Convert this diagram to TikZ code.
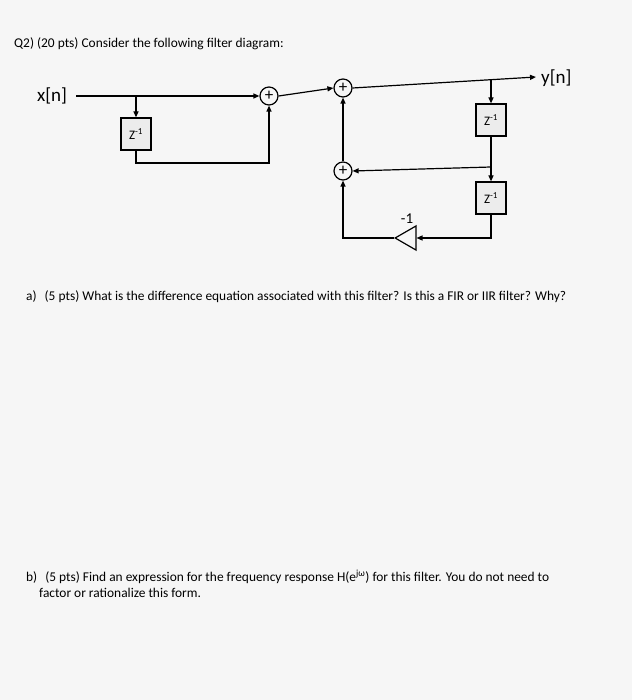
\documentclass[tikz,border=0pt]{standalone}
\usepackage{fontspec}
\setmainfont{Carlito}
\usetikzlibrary{arrows.meta,shapes.geometric}
\begin{document}
\begin{tikzpicture}[x=1pt,y=-1pt,
  wire/.style={line width=1.2pt},
  arr/.style={wire,-{Triangle[length=6pt,width=5pt]}},
  adder/.style={circle,draw,line width=1.2pt,minimum size=18pt,inner sep=0pt,font=\fontsize{17}{17}\selectfont},
  dbox/.style={draw,line width=1.2pt,fill=white!85!gray,minimum width=30pt,minimum height=32pt,font=\fontsize{13}{13}\selectfont},
  txt/.style={anchor=west,inner sep=0pt,font=\fontsize{13.4}{15}\selectfont}]
\fill[white!93!gray] (0,0) rectangle (632,700);
\useasboundingbox (0,0) rectangle (632,700);
\node[txt] (q) at (14,44) {Q2) (20 pts) Consider the following filter diagram:};
\node[font=\fontsize{19}{19}\selectfont,inner sep=1pt] (x) at (52,96) {x[n]};
\node[adder] (a1) at (269,96) {+};
\node[adder] (a2) at (343,88) {+};
\node[adder] (a3) at (343,171) {+};
\node[dbox] (z1) at (136,134) {Z\textsuperscript{-1}};
\node[dbox] (z2) at (491,120) {Z\textsuperscript{-1}};
\node[dbox] (z3) at (491,198) {Z\textsuperscript{-1}};
\node[font=\fontsize{19}{19}\selectfont,inner sep=1pt,anchor=west] (y) at (540,78) {y[n]};
\node[isosceles triangle,draw,line width=1.2pt,shape border rotate=180,minimum height=20pt,minimum width=24pt,inner sep=0pt,isosceles triangle apex angle=60] (g) at (409,238) {};
\node[font=\fontsize{15}{15}\selectfont] (m1) at (407,219) {-1};
\coordinate (b1) at (136,96);
\coordinate (b2) at (491,79);
\coordinate (b3) at (491,167);
\coordinate (o) at (536,77);
\draw[arr] ([xshift=8pt]x.east) -- (a1.west);
\draw[arr] (b1) -- (z1.north);
\draw[arr] (z1.south) |- (175,163) -| (a1.south);
\draw[arr] (a1.east) -- (a2.west);
\draw[arr] (a2.east) -- (o);
\draw[arr] (b2) -- (z2.north);
\draw[arr] (z2.south) -- (z3.north);
\draw[arr] (b3) -- (a3.east);
\draw[arr] (z3.south) |- (g.east);
\draw[arr] (g.apex) -| (a3.south);
\draw[arr] (a3.north) -- (a2.south);
\node[txt] (qa) at (26,297) {a)\hspace{8pt}(5 pts) What is the difference equation associated with this filter? Is this a FIR or IIR filter? Why?};
\node[txt] (qb) at (26,577) {b)\hspace{8pt}(5 pts) Find an expression for the frequency response H(e\textsuperscript{jω}) for this filter. You do not need to};
\node[txt] (qb2) at (39,593) {factor or rationalize this form.};
\end{tikzpicture}
\end{document}
